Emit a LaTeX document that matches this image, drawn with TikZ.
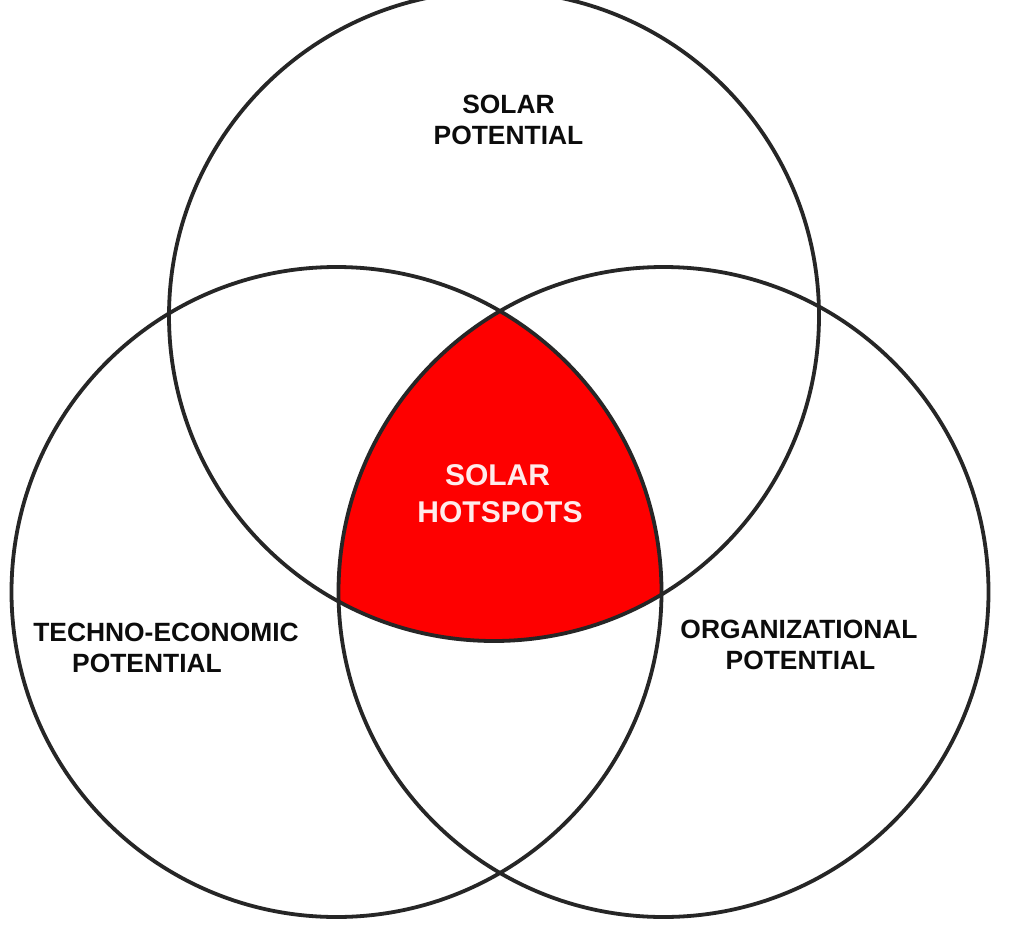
\documentclass[tikz,border=0pt]{standalone}
\usepackage{fontspec}
\setmainfont{Liberation Sans}
\definecolor{ring}{HTML}{262626}
\definecolor{hot}{HTML}{FE0000}
\definecolor{lab}{HTML}{0C0C0C}
\tikzset{
  ringline/.style={draw=ring,line width=3.8pt},
  darklabel/.style={text=lab,font=\fontsize{26.4}{31}\selectfont\bfseries,align=center,inner sep=0pt},
  hotlabel/.style={text=white!92!red,font=\fontsize{30}{37}\selectfont\bfseries,align=center,inner sep=0pt}
}
\begin{document}
\begin{tikzpicture}[x=1pt,y=-1pt]
\useasboundingbox (0,0) rectangle (1020,942);
\fill[white] (0,0) rectangle (1020,942);
\begin{scope}
  \clip (494,316) circle[radius=325pt];
  \clip (336.5,592) circle[radius=325pt];
  \fill[hot] (663.5,592) circle[radius=325pt];
\end{scope}
\clip (0,0) rectangle (1020,942);
\path[ringline] (494,316) circle[radius=325pt];
\path[ringline] (336.5,592) circle[radius=325pt];
\path[ringline] (663.5,592) circle[radius=325pt];
\node[darklabel] (solar) at (508.5,120) {SOLAR\\POTENTIAL};
\node[darklabel] (techno) at (166,647.5) {TECHNO-ECONOMIC\\[0pt]\hspace*{-38pt}POTENTIAL};
\node[darklabel] (org) at (799,644.5) {ORGANIZATIONAL\\\hspace*{3pt}POTENTIAL};
\node[hotlabel] (hotspots) at (500,493.5) {\hspace*{-5pt}SOLAR\\HOTSPOTS};
\end{tikzpicture}
\end{document}
